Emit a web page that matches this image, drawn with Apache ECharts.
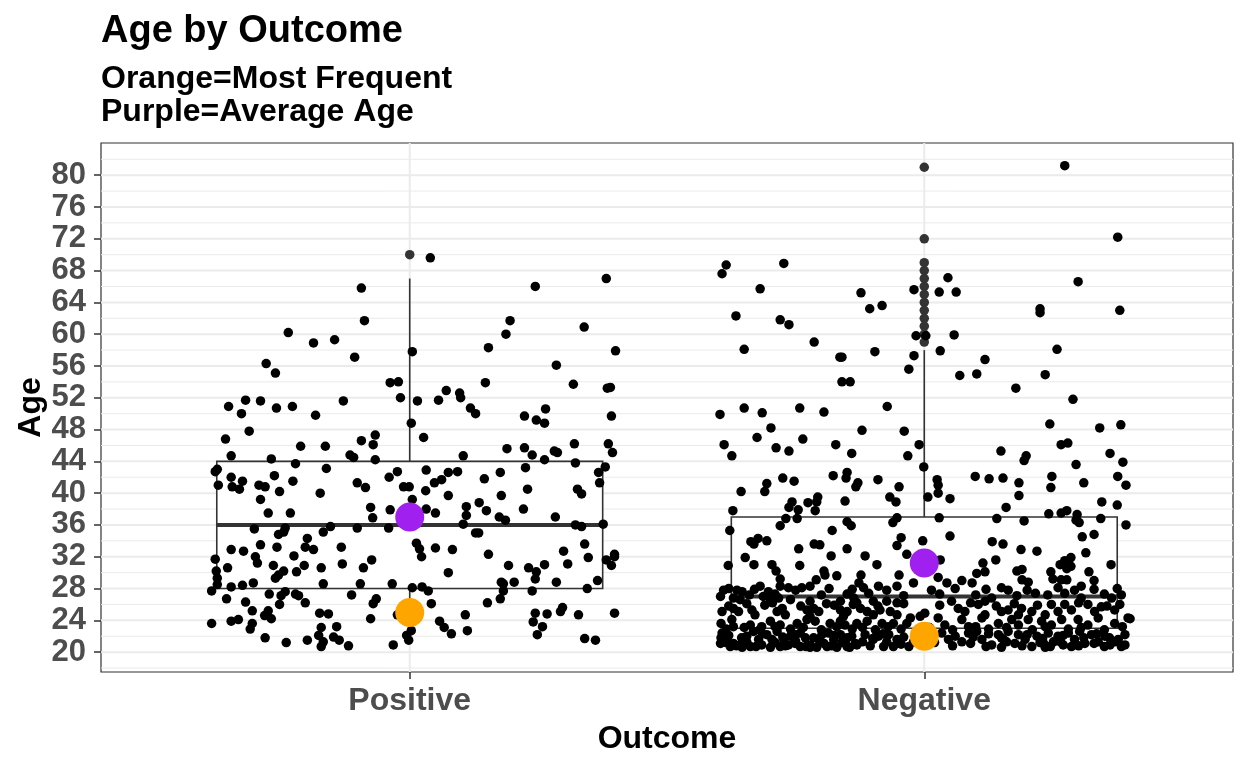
<!DOCTYPE html>
<html><head><meta charset="utf-8">
<script src="https://cdn.jsdelivr.net/npm/echarts@6/dist/echarts.min.js"></script>
<style>html,body{margin:0;padding:0;background:#fff}#c{width:1248px;height:768px}</style>
</head><body><div id="c"></div>
<script>
// ---------------- data ----------------
const categories = ['Positive', 'Negative'];
const yTicks = [20,24,28,32,36,40,44,48,52,56,60,64,68,72,76,80];
const minorGrid = [18,22,26,30,34,38,42,46,50,54,58,62,66,70,74,78,82];
// [lower whisker, Q1, median, Q3, upper whisker]
const positiveBox = [21, 28, 36, 44, 67];
const negativeBox = [21, 23, 27, 37, 58];
const positiveOutliers = [70];
const negativeOutliers = [59,60,61,62,63,64,65,66,67,68,69,72,81];
const meanAge = [37.0, 31.2];   // purple
const modeAge = [25, 22];       // orange
// jittered points: [horizontal jitter (category units), age]
const positivePoints = [
[0.04,69.6],[-0.094,65.8],[0.244,66.0],[0.382,67.0],[-0.088,61.7],[0.195,61.7],[0.339,60.9],[-0.236,60.2],[0.187,60.0],[-0.187,58.9],[-0.146,59.3],[0.153,58.3],[0.40,57.9],[0.005,57.8],[-0.107,57.1],[-0.279,56.3],[-0.261,55.1],[0.285,56.1],[-0.038,53.9],[-0.022,54.0],[0.147,53.9],[0.318,53.7],[0.384,53.2],[0.39,53.3],[-0.352,50.9],[-0.319,51.7],[-0.29,51.6],[-0.259,50.7],[-0.228,50.9],[-0.327,50.0],[-0.183,49.8],[-0.129,51.6],[-0.018,52.0],[0.015,51.6],[0.056,51.7],[0.071,52.9],[0.097,52.6],[0.099,52.0],[0.118,50.7],[0.128,50.0],[0.223,49.7],[0.246,49.2],[0.264,50.6],[0.262,48.8],[0.392,49.7],[0.003,48.8],[-0.312,47.8],[-0.358,46.8],[-0.067,47.3],[-0.094,46.6],[-0.071,46.1],[0.027,47.0],[-0.212,45.9],[-0.164,45.9],[0.189,45.6],[0.223,45.7],[0.281,45.3],[0.32,46.2],[0.386,46.2],
[-0.347,44.7],[-0.269,44.3],[-0.222,43.7],[-0.116,44.8],[-0.109,44.5],[-0.067,44.2],[0.104,44.7],[0.238,44.8],[0.262,44.2],[0.287,45.1],[0.322,43.8],[0.394,45.1],[0.38,43.3],[0.367,42.6],[0.369,41.3],[-0.374,43.0],[-0.378,42.7],[-0.372,41.0],[-0.347,42.0],[-0.345,40.8],[-0.325,41.5],[-0.331,40.5],[-0.293,41.0],[-0.281,40.8],[-0.263,42.2],[-0.253,40.2],[-0.227,41.5],[-0.29,39.2],[-0.275,37.5],[-0.232,37.5],[-0.174,40.0],[-0.162,43.1],[-0.102,41.3],[-0.086,40.7],[-0.04,42.0],[-0.024,42.7],[-0.012,40.8],[-0.001,40.8],[0.005,39.2],[0.032,42.9],[0.031,40.3],[0.048,41.3],[0.062,41.7],[0.075,42.6],[0.093,42.7],[0.075,39.7],[0.145,41.8],[0.176,42.6],[0.178,39.7],[0.225,43.2],[0.229,40.5],[0.326,40.5],[0.334,39.9],[-0.076,38.2],[-0.072,36.9],[-0.038,37.9],[0.032,38.0],[0.05,37.5],[0.11,38.3],[0.11,37.2],[0.104,36.1],[0.135,38.8],[0.149,37.8],[0.174,37.0],[0.186,36.6],[0.221,38.0],[0.283,37.0],[0.322,36.0],[0.334,35.8],[0.376,36.1],[-0.302,35.5],[-0.242,35.6],[-0.245,35.1],[-0.255,34.8],[-0.168,35.1],[-0.154,35.8],[-0.102,35.6],[-0.041,35.6],[0.128,35.0],[0.134,35.0],[-0.347,32.9],[-0.323,32.7],[-0.29,33.5],[-0.258,33.2],[-0.199,34.3],[-0.203,33.2],[-0.187,32.9],[-0.133,33.2],[0.013,33.7],[0.019,33.0],[0.05,33.1],[0.083,32.9],[0.299,32.7],[0.34,33.6],[0.398,32.3],
[-0.378,31.7],[-0.354,30.6],[-0.376,30.2],[-0.374,29.3],[-0.374,28.5],[-0.385,27.7],[-0.3,32.0],[-0.296,31.2],[-0.265,30.9],[-0.245,30.2],[-0.255,29.7],[-0.261,29.3],[-0.225,32.1],[-0.22,30.1],[-0.205,30.9],[-0.172,30.6],[-0.131,31.1],[-0.09,30.6],[-0.074,31.6],[-0.347,28.2],[-0.325,28.4],[-0.304,28.7],[-0.168,28.6],[-0.096,28.6],[-0.034,28.6],[0.023,32.0],[0.075,30.0],[0.153,32.3],[0.192,30.9],[0.231,30.6],[0.246,30.1],[0.262,31.0],[0.244,29.2],[0.307,31.1],[0.347,31.9],[0.382,31.6],[0.392,30.9],[0.398,32.0],[0.178,28.8],[0.182,28.6],[0.203,28.8],[0.285,28.8],[0.365,29.0],[0.005,28.1],[0.024,28.2],[0.036,27.7],[0.238,27.7],[0.345,28.0],[-0.273,27.3],[-0.25,27.1],[-0.242,27.6],[-0.222,27.3],[-0.216,27.1],[-0.356,26.7],[-0.319,26.3],[-0.253,26.0],[-0.203,26.2],[-0.113,27.2],[-0.065,26.7],[-0.071,26.1],[0.042,26.1],[0.151,26.2],[0.176,26.7],[0.182,27.7],[-0.306,25.2],[-0.275,25.2],[-0.282,24.6],[-0.269,24.2],[-0.175,24.9],[-0.158,24.8],[-0.076,24.2],[-0.385,23.6],[-0.347,23.9],[-0.333,24.1],[-0.306,23.6],[-0.31,22.9],[-0.281,21.8],[-0.24,21.2],[-0.199,21.5],[-0.172,23.1],[-0.177,22.1],[-0.168,21.3],[-0.172,20.7],[-0.142,23.2],[-0.148,21.9],[-0.137,21.5],[-0.119,20.8],[-0.032,20.9],[-0.006,22.1],[-0.002,21.5],[0.003,22.7],[-0.024,24.7],[0.058,23.9],[0.067,23.1],[0.081,22.3],[0.108,24.7],[0.112,22.7],[0.244,24.9],[0.267,24.8],[0.24,23.8],[0.258,23.2],[0.248,22.2],[0.297,25.6],[0.293,25.1],[0.328,24.7],[0.398,24.9],[0.34,21.7],[0.361,21.5]
];
const negativePoints = [
[0.273,81.2],[0.376,72.2],[-0.385,68.7],[-0.393,67.6],[-0.273,68.9],[-0.319,65.7],[-0.123,65.2],[-0.02,65.6],[0.046,67.1],[0.029,65.3],[0.062,65.3],[0.299,66.6],[-0.106,63.2],[-0.082,63.6],[-0.366,62.3],[-0.28,61.8],[-0.263,61.2],[0.225,63.2],[0.225,62.7],[0.38,63.0],[-0.016,59.8],[0.003,59.8],[0.058,59.9],[-0.214,59.0],
[-0.35,58.1],[-0.164,57.1],[-0.16,57.1],[-0.096,57.8],[-0.02,57.3],[-0.03,55.6],[0.031,57.9],[0.118,56.8],[0.069,54.8],[0.102,55.0],[0.258,58.1],[0.235,54.9],[0.178,53.2],[0.289,51.8],[-0.16,54.0],[-0.144,54.0],[-0.397,49.9],[-0.35,50.7],[-0.315,50.1],[-0.242,50.7],[-0.195,50.2],[-0.072,50.9],[-0.298,48.2],[-0.325,47.0],[-0.236,46.8],[-0.121,47.9],[-0.039,47.8],[-0.389,46.1],[-0.374,44.7],[-0.288,45.7],[-0.263,45.3],[-0.172,46.1],[-0.141,45.0],[-0.032,44.7],[-0.01,46.1],[-0.001,43.3],[0.244,48.7],[0.341,48.2],[0.382,48.6],[0.266,46.1],[0.279,46.3],[0.149,45.3],[0.198,44.7],[0.194,44.1],[0.295,43.6],[0.361,45.0],[0.386,43.9],[-0.356,40.2],[-0.306,41.2],[-0.31,40.2],[-0.275,41.9],[-0.253,41.5],[-0.177,42.2],[-0.15,42.6],[-0.152,41.9],[-0.129,41.3],[-0.133,40.8],[-0.09,41.7],[-0.049,40.8],[0.025,41.7],[0.027,41.0],[0.027,40.0],[0.007,39.5],[0.05,39.3],[0.099,42.1],[0.126,41.8],[0.153,41.9],[0.184,41.3],[0.184,39.7],[0.159,38.2],[0.248,42.1],[0.246,40.7],[0.31,41.3],[0.376,42.1],[0.392,41.0],[0.345,38.9],[0.375,38.5],[-0.372,37.8],[-0.257,38.9],[-0.263,38.2],[-0.245,37.9],[-0.226,38.8],[-0.207,39.5],[-0.209,38.9],[-0.212,37.8],[-0.154,39.0],[-0.067,39.5],[-0.055,38.9],[0.242,37.4],[0.266,37.5],[0.277,37.8],[0.297,37.3],
[-0.378,35.3],[-0.381,30.9],[-0.337,33.9],[-0.323,34.3],[-0.306,34.0],[-0.331,33.6],[-0.28,35.9],[-0.269,36.8],[-0.247,36.8],[-0.348,31.9],[-0.331,31.0],[-0.296,31.0],[-0.288,30.2],[-0.28,29.2],[-0.244,33.0],[-0.242,30.9],[-0.214,33.6],[-0.203,33.5],[-0.179,35.3],[-0.181,32.1],[-0.15,36.4],[-0.142,35.9],[-0.15,33.0],[-0.195,30.2],[-0.193,29.7],[-0.17,29.6],[-0.21,29.1],[-0.115,32.1],[-0.092,31.0],[-0.123,29.7],[-0.127,28.7],[-0.061,36.3],[-0.053,36.9],[-0.045,34.4],[-0.053,33.4],[-0.034,32.3],[-0.049,29.7],[-0.003,34.0],[0.029,36.9],[0.05,34.6],[0.031,31.6],[0.027,29.4],[0.044,28.7],[0.073,29.0],[0.093,28.7],[0.102,29.9],[0.118,30.1],[0.114,31.2],[0.132,33.9],[0.153,33.6],[0.139,31.6],[0.141,36.8],[0.194,36.5],[0.188,32.9],[0.219,32.7],[0.18,30.2],[0.19,30.4],[0.19,29.1],[0.202,28.8],[0.246,30.1],[0.25,29.2],[0.264,31.0],[0.273,31.5],[0.285,31.9],[0.277,30.5],[0.285,30.8],[0.266,29.1],[0.277,29.1],[0.295,36.6],[0.301,36.3],[0.307,34.5],[0.33,34.8],[0.314,32.5],[0.32,30.1],[0.33,29.0],[0.343,36.8],[0.363,31.0],[0.392,36.0],
[-0.021,28.7],[-0.39,27.8],[-0.364,27.8],[-0.354,27.6],[-0.319,28.3],[-0.303,27.6],[-0.28,28.3],[-0.264,28.1],[-0.238,28.1],[-0.222,28.3],[-0.118,28.1],[-0.108,27.4],[-0.089,28.3],[-0.073,27.8],[-0.053,28.3],
[-0.396,27.0],[-0.371,26.8],[-0.358,26.6],[-0.313,27.0],[-0.299,26.6],[-0.283,26.8],[-0.26,26.6],[-0.222,26.4],[-0.163,26.4],[-0.137,26.8],[-0.131,26.2],[-0.099,26.4],[-0.073,26.4],[-0.053,26.2],
[-0.393,25.1],[-0.371,25.5],[-0.361,25.1],[-0.335,25.3],[-0.329,24.7],[-0.286,25.1],[-0.276,25.5],[-0.27,24.7],[-0.228,25.3],[-0.215,25.5],[-0.205,25.1],[-0.222,24.5],[-0.163,25.3],[-0.15,25.1],[-0.157,24.5],[-0.124,25.5],[-0.111,25.1],[-0.099,24.7],[-0.086,25.3],[-0.066,25.1],[-0.053,24.7],[-0.027,24.3],[-0.008,24.5],
[-0.395,23.6],[-0.374,24.1],[-0.371,23.2],[-0.338,23.4],[-0.316,23.2],[-0.299,23.9],[-0.28,23.4],[-0.247,23.6],[-0.228,24.1],[-0.212,23.9],[-0.183,23.6],[-0.163,23.9],[-0.154,23.4],[-0.131,23.6],[-0.111,23.9],[-0.082,23.6],[-0.06,23.6],[-0.034,23.6],
[-0.395,21.8],[-0.393,22.4],[-0.383,21.3],[-0.371,21.1],[-0.358,20.9],[-0.345,22.0],[-0.332,22.6],[-0.322,21.6],[-0.306,22.2],[-0.296,21.6],[-0.286,22.6],[-0.273,21.6],[-0.26,22.0],[-0.251,21.1],[-0.241,22.4],[-0.231,21.8],[-0.222,20.9],[-0.205,21.6],[-0.199,22.2],[-0.186,22.4],[-0.176,21.6],[-0.163,22.2],[-0.154,21.3],[-0.141,22.0],[-0.134,21.1],[-0.099,21.6],[-0.089,22.0],[-0.073,21.3],[-0.069,22.2],[-0.053,21.6],[-0.021,21.3],
[-0.396,21.1],[-0.377,20.7],[-0.354,20.6],[-0.338,20.7],[-0.316,20.9],[-0.299,20.6],[-0.28,20.7],[-0.264,20.9],[-0.241,20.7],[-0.222,20.6],[-0.209,20.6],[-0.189,20.7],[-0.17,20.6],[-0.15,20.7],[-0.131,20.9],[-0.079,20.7],[-0.06,20.7],
[0.014,27.8],[0.15,28.1],[0.163,27.8],[0.216,27.4],[0.26,28.1],[0.273,27.4],[0.292,27.8],[0.305,28.3],[0.364,26.8],[0.383,27.2],
[0.001,24.9],[0.053,26.4],[0.066,25.5],[0.079,25.1],[0.105,26.0],[0.118,26.4],[0.131,26.8],[0.118,24.7],[0.15,25.1],[0.163,25.3],[0.183,24.7],[0.189,25.5],[0.209,25.1],[0.235,24.7],[0.247,26.0],[0.26,25.1],[0.273,26.0],[0.286,25.3],[0.305,26.8],[0.318,26.0],[0.331,25.1],[0.344,25.7],[0.37,25.3],[0.396,24.3],
[0.027,24.3],[0.04,23.4],[0.073,24.1],[0.086,23.2],[0.112,24.3],[0.144,23.6],[0.17,24.1],[0.183,23.4],[0.202,24.1],[0.228,23.9],[0.247,23.4],[0.267,24.1],[0.299,24.1],[0.318,23.4],[0.338,24.3],[0.37,23.6],
[0.034,22.4],[0.047,21.6],[0.06,22.0],[0.073,21.3],[0.086,22.4],[0.102,22.6],[0.112,21.6],[0.131,20.9],[0.144,22.2],[0.154,21.6],[0.163,22.6],[0.176,21.1],[0.183,22.2],[0.196,21.6],[0.209,20.7],[0.219,22.0],[0.232,21.1],[0.241,22.4],[0.251,21.3],[0.26,22.0],[0.27,20.9],[0.28,22.4],[0.292,21.6],[0.302,22.6],[0.312,21.1],[0.325,22.2],[0.338,21.3],[0.351,22.0],[0.361,20.9],[0.377,21.6],[0.383,20.7],[0.15,20.6],[0.235,20.6],[0.286,20.7],[0.40,24.2],
[-0.385,21.2],[-0.365,20.8],[-0.345,21.3],[-0.327,20.7],[-0.29,21.2],[-0.27,20.8],[-0.25,21.4],[-0.23,20.7],[-0.195,21.1],[-0.18,20.8],[-0.16,21.2],[-0.145,20.6],[-0.12,21.3],[-0.105,20.8],[-0.045,21.0],[-0.03,20.7],[0.02,21.2],[0.055,20.8],[0.09,21.1],[0.12,20.7],[0.16,21.3],[0.19,20.8],[0.225,21.2],[0.245,20.7],[0.265,21.3],[0.3,20.8],[0.33,21.1],[0.35,20.7],[0.37,21.3],[0.39,20.9],
[-0.38,22.1],[-0.355,21.8],[-0.315,22.3],[-0.275,21.9],[-0.25,22.2],[-0.215,21.8],[-0.175,22.1],[-0.15,21.8],[-0.115,22.2],[-0.1,21.7],[-0.08,22.3],[-0.04,21.9],[-0.005,21.7],[0.015,22.2],[0.095,21.9],[0.125,22.3],[0.15,21.8],[0.2,22.2],[0.23,21.7],[0.27,22.1],[0.31,21.8],[0.335,22.3],[0.36,21.8],[0.39,22.2],
[-0.385,22.9],[-0.35,23.1],[-0.32,22.8],[-0.29,23.2],[-0.26,22.9],[-0.235,23.1],[-0.2,22.8],[-0.17,23.2],[-0.14,22.9],[-0.12,23.1],[-0.095,22.8],[-0.07,23.2],[-0.045,22.9],[0.01,23.1],[0.055,22.8],[0.1,23.2],[0.125,22.9],[0.16,23.1],[0.21,22.8],[0.235,23.2],[0.28,22.9],[0.305,23.1],[0.35,22.8],[0.385,23.2],
[-0.38,25.8],[-0.345,26.1],[-0.31,25.9],[-0.295,26.2],[-0.24,25.8],[-0.19,26.1],[-0.175,25.9],[-0.138,26.0],[-0.09,25.8],[-0.04,26.1],[0.03,25.9],[0.09,26.2],[0.14,25.8],[0.175,26.1],[0.22,25.9],[0.3,26.2],[0.355,25.8],[0.38,26.0],
[-0.38,28.0],[-0.34,27.2],[-0.33,27.9],[-0.29,27.3],[-0.25,27.8],[-0.2,27.2],[-0.185,28.0],[-0.15,27.3],[-0.14,27.9],[-0.04,27.1],[0.03,27.3],[0.06,28.0],[0.1,27.2],[0.12,27.9],[0.18,27.1],[0.2,27.8],[0.24,27.2],[0.33,27.9],[0.35,27.3],[0.375,28.0]
];

// ---------------- chart ----------------
const FONT = '"Liberation Sans", Arial, sans-serif';
const X_MIN = 0.4, X_MAX = 2.6, Y_MIN = 17.5, Y_MAX = 84.05;
const BOX_HALF = 0.375;
const DOT = 9.5;

const hGrid = yTicks.map(v => [X_MIN, v, 2]).concat(minorGrid.map(v => [X_MIN, v, 1]));
const vGrid = categories.map((c, i) => [i + 1, Y_MIN]);
const boxData = [[1].concat(positiveBox), [2].concat(negativeBox)];
const outlierData = positiveOutliers.map(v => [1, v]).concat(negativeOutliers.map(v => [2, v]));
const jitterData = positivePoints.map(p => [1 + p[0], p[1]]).concat(negativePoints.map(p => [2 + p[0], p[1]]));
const meanData = meanAge.map((v, i) => [i + 1, v]);
const modeData = modeAge.map((v, i) => [i + 1, v]);

const chart = echarts.init(document.getElementById('c'));
chart.setOption({
  animation: false,
  backgroundColor: '#ffffff',
  title: [
    { text: 'Age by Outcome', left: 101, top: 13, padding: 0,
      textStyle: { fontFamily: FONT, fontWeight: 'bold', fontSize: 38, lineHeight: 38, color: '#000' } },
    { text: 'Orange=Most Frequent\nPurple=Average Age', left: 101, top: 62, padding: 0,
      textStyle: { fontFamily: FONT, fontWeight: 'bold', fontSize: 32, lineHeight: 33.6, color: '#000' } }
  ],
  grid: { left: 101, right: 15, top: 143, bottom: 96, show: true, backgroundColor: '#fff', borderColor: '#333333', borderWidth: 1.2 },
  xAxis: {
    type: 'value', min: X_MIN, max: X_MAX,
    axisLine: { show: false }, splitLine: { show: false },
    axisTick: { show: true, customValues: [1, 2], length: 7, lineStyle: { color: '#333333', width: 1.5 } },
    axisLabel: { customValues: [1, 2], formatter: v => categories[Math.round(v) - 1], margin: 13,
      fontFamily: FONT, fontWeight: 'bold', fontSize: 32, lineHeight: 32, color: '#4D4D4D' }
  },
  yAxis: {
    type: 'value', min: Y_MIN, max: Y_MAX,
    axisLine: { show: false }, splitLine: { show: false },
    axisTick: { show: true, customValues: yTicks, length: 7, lineStyle: { color: '#333333', width: 1.5 } },
    axisLabel: { customValues: yTicks, margin: 15, fontFamily: FONT, fontWeight: 'bold', fontSize: 31, color: '#4D4D4D' }
  },
  graphic: [
    { type: 'text', x: 31, y: 407.5, rotation: Math.PI / 2,
      style: { text: 'Age', font: 'bold 32px "Liberation Sans", Arial, sans-serif', fill: '#000', textAlign: 'center', textVerticalAlign: 'middle' } },
    { type: 'text', x: 667, y: 739,
      style: { text: 'Outcome', font: 'bold 32px "Liberation Sans", Arial, sans-serif', fill: '#000', textAlign: 'center', textVerticalAlign: 'middle' } }
  ],
  series: [
    { type: 'custom', z: 1, silent: true, data: hGrid, encode: { x: 0, y: 1 },
      renderItem: (params, api) => {
        const v = api.value(1);
        const a = api.coord([X_MIN, v]), b = api.coord([X_MAX, v]);
        return { type: 'line', shape: { x1: a[0], y1: a[1], x2: b[0], y2: b[1] },
          style: { stroke: '#EBEBEB', lineWidth: api.value(2) } };
      } },
    { type: 'custom', z: 1, silent: true, data: vGrid, encode: { x: 0, y: 1 },
      renderItem: (params, api) => {
        const x = api.value(0);
        const a = api.coord([x, Y_MIN]), b = api.coord([x, Y_MAX]);
        return { type: 'line', shape: { x1: a[0], y1: a[1], x2: b[0], y2: b[1] },
          style: { stroke: '#EBEBEB', lineWidth: 2 } };
      } },
    { type: 'custom', z: 2, silent: true, data: boxData, encode: { x: 0, y: [1, 2, 3, 4, 5] },
      renderItem: (params, api) => {
        const x = api.value(0);
        const lo = api.coord([x, api.value(1)]), q1 = api.coord([x, api.value(2)]),
              md = api.coord([x, api.value(3)]), q3 = api.coord([x, api.value(4)]),
              hi = api.coord([x, api.value(5)]);
        const l = api.coord([x - BOX_HALF, 0])[0], r = api.coord([x + BOX_HALF, 0])[0];
        const st = { stroke: '#333333', lineWidth: 1.6 };
        return { type: 'group', children: [
          { type: 'line', shape: { x1: hi[0], y1: hi[1], x2: q3[0], y2: q3[1] }, style: st },
          { type: 'line', shape: { x1: lo[0], y1: lo[1], x2: q1[0], y2: q1[1] }, style: st },
          { type: 'rect', shape: { x: l, y: q3[1], width: r - l, height: q1[1] - q3[1] }, style: { fill: '#fff', stroke: '#333333', lineWidth: 1.6 } },
          { type: 'line', shape: { x1: l, y1: md[1], x2: r, y2: md[1] }, style: { stroke: '#333333', lineWidth: 4 } }
        ] };
      } },
    { type: 'scatter', z: 3, silent: true, data: outlierData, symbolSize: DOT, itemStyle: { color: '#333333', opacity: 1 } },
    { type: 'scatter', z: 4, silent: true, data: jitterData, symbolSize: DOT, itemStyle: { color: '#000000', opacity: 1 } },
    { type: 'scatter', z: 5, silent: true, data: meanData, symbolSize: 29, itemStyle: { color: '#A020F0', opacity: 1 } },
    { type: 'scatter', z: 5, silent: true, data: modeData, symbolSize: 29, itemStyle: { color: '#FFA500', opacity: 1 } }
  ]
});
</script>
</body></html>
